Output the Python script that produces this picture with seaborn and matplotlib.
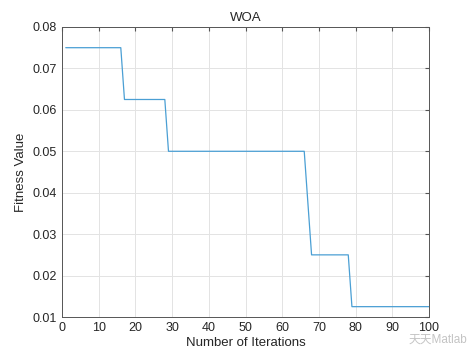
import matplotlib
matplotlib.use("Agg")
import matplotlib.pyplot as plt
import seaborn as sns
import numpy as np
import pandas as pd

# convergence curve: best fitness per run of iterations
step_values = [0.075, 0.0625, 0.05, 0.0375, 0.025, 0.0125]
step_lengths = [16, 12, 38, 1, 11, 22]

fitness = np.repeat(step_values, step_lengths)
iterations = np.arange(1, len(fitness) + 1)
df = pd.DataFrame({"iter": iterations, "fitness": fitness})

x_ticks = [0, 10, 20, 30, 40, 50, 60, 70, 80, 90, 100]
y_ticks = [0.01, 0.02, 0.03, 0.04, 0.05, 0.06, 0.07, 0.08]

sns.set_style("white")
plt.rcParams["font.family"] = ["Liberation Sans", "Noto Sans CJK SC", "DejaVu Sans"]

fig = plt.figure(figsize=(4.74, 3.55), dpi=100)
ax = fig.add_axes([0.131, 0.107, 0.774, 0.817])

sns.lineplot(data=df, x="iter", y="fitness", ax=ax, color="#4a9fd4", linewidth=0.9)

ax.set_xlim(0, 100)
ax.set_ylim(0.01, 0.08)
ax.set_xticks(x_ticks)
ax.set_yticks(y_ticks)
ax.set_yticklabels([f"{v:.2f}" for v in y_ticks])
ax.grid(True, color="#e3e3e3", linewidth=0.7)
ax.tick_params(direction="in", length=3, color="#555555", labelsize=9,
               labelcolor="#262626", top=True, right=True, labeltop=False, labelright=False)
for s in ax.spines.values():
    s.set_color("#555555")
    s.set_linewidth(0.7)

ax.set_xlabel("Number of Iterations", fontsize=9.5, color="#262626", labelpad=2)
ax.set_ylabel("Fitness Value", fontsize=9.5, color="#262626", labelpad=4)
ax.set_title("WOA", fontsize=9.5, color="#262626", pad=4)

# faint watermark
fig.text(0.985, 0.025, "天天Matlab", fontsize=8.5, color="#c4c4c4", ha="right", va="bottom")

fig.savefig("out.png", dpi=100)
